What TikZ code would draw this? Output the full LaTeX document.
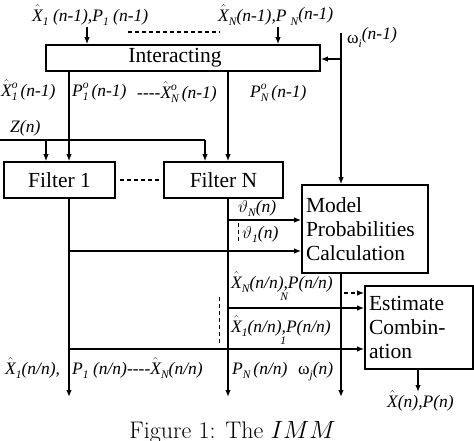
\documentclass[tikz,border=0pt]{standalone}
\usepackage{fontspec}
\newfontfamily\tms{Liberation Serif}
\usetikzlibrary{arrows.meta}
\newcommand\Xh{\ensuremath{\hat{\mbox{X}}}}
\newcommand\om{{\upshape ω}}
\newcommand\sbs[1]{\raisebox{-4.5pt}{\fontsize{11.5}{11.5}\selectfont #1}}
\newcommand\sps[2]{\makebox[0pt][l]{\raisebox{7.5pt}{\fontsize{11.5}{11.5}\selectfont #1}}\raisebox{-4.5pt}{\fontsize{11.5}{11.5}\selectfont #2}}
\begin{document}
\begin{tikzpicture}[x=1pt,y=-1pt,
  box/.style={draw,line width=1.6pt,inner sep=0pt,font=\tms\fontsize{21.5}{24}\selectfont},
  arr/.style={line width=1.4pt,-{Latex[length=7pt,width=5.5pt]}},
  ln/.style={line width=1.4pt},
  dsh/.style={line width=1.2pt,dash pattern=on 4pt off 3pt},
  lab/.style={anchor=base west,inner sep=0pt,font=\tms\itshape\fontsize{17.5}{19}\selectfont}]
\useasboundingbox (0,0) rectangle (474,440);

% boxes
\node[box,minimum width=274pt,minimum height=26pt] (inter) at (183,58) {\hspace*{-16pt}Interacting};
\node[box,minimum width=111pt,minimum height=36pt] (f1) at (59.5,180) {Filter 1};
\node[box,minimum width=119pt,minimum height=36pt] (fN) at (223.5,180) {Filter N};
\node[box,minimum height=88pt,text width=118pt,inner sep=4pt,align=left] (mpc) at (365,229) {Model\\Probabilities\\Calculation};
\node[box,minimum height=83pt,text width=100pt,inner sep=4pt,align=left] (ec) at (419,327.5) {Estimate\\Combin-\\ation};

% coordinates
\coordinate (t1) at (87,27);
\coordinate (tN) at (278,27);
\coordinate (td1) at (128,32);
\coordinate (td2) at (220,32);
\coordinate (w0) at (341,33);
\coordinate (wbr) at (341,59);
\coordinate (c1) at (69,0);
\coordinate (cN) at (228,0);
\coordinate (z0) at (0,140);
\coordinate (z1) at (46,140);
\coordinate (zN) at (205,140);
\coordinate (fd1) at (120,180);
\coordinate (fd2) at (160,180);
\coordinate (o1) at (69,397);
\coordinate (oN) at (228,397);
\coordinate (ow) at (341,397);
\coordinate (h1) at (228,220);
\coordinate (h2) at (69,251);
\coordinate (h3) at (344,293);
\coordinate (h4) at (228,308);
\coordinate (h5) at (69,349);
\coordinate (v1a) at (238,223);
\coordinate (v1b) at (238,242);
\coordinate (v2a) at (219,297);
\coordinate (v2b) at (219,344);
\coordinate (eo) at (418,392);

% connectors
\draw[arr] (t1) -- (t1 |- inter.north);
\draw[arr] (tN) -- (tN |- inter.north);
\draw[dsh] (td1) -- (td2);
\draw[arr] (w0) -- (w0 |- mpc.north);
\draw[arr] (wbr) -- (wbr -| inter.east);
\draw[arr] (inter.south -| c1) -- (f1.north -| c1);
\draw[arr] (inter.south -| cN) -- (fN.north -| cN);
\draw[ln] (z0) -- (zN);
\draw[arr] (z1) -- (z1 |- f1.north);
\draw[arr] (zN) -- (zN |- fN.north);
\draw[dsh] (fd1) -- (fd2);
\draw[arr] (f1.south -| o1) -- (o1);
\draw[arr] (fN.south -| oN) -- (oN);
\draw[arr] (mpc.south -| ow) -- (ow);
\draw[arr] (h1) -- (h1 -| mpc.west);
\draw[arr] (h2) -- (h2 -| mpc.west);
\draw[arr,dash pattern=on 4pt off 3pt] (h3) -- (h3 -| ec.west);
\draw[arr] (h4) -- (h4 -| ec.west);
\draw[arr] (h5) -- (h5 -| ec.west);
\draw[dsh,line width=1pt] (v1a) -- (v1b);
\draw[dsh,line width=1pt] (v2a) -- (v2b);
\draw[arr] (ec.south -| eo) -- (eo);

% labels
\node[lab] (l1) at (32,21) {\Xh\sbs{1} (n-1),P\sbs{1} (n-1)};
\node[lab] (l2) at (218,21) {\Xh\sbs{N}(n-1),P\hspace{4pt}\sbs{N}\raisebox{2pt}{(n-1)}};
\node[lab] (l3) at (1,96) {\Xh\sps{o}{1}\,(n-1)};
\node[lab] (l4) at (72,96) {P\sps{o}{1}\,(n-1)};
\node[lab] (l5) at (137,98) {-{}-{}-{}-\Xh\sps{o}{N}\,(n-1)};
\node[lab] (l6) at (250,97) {P\sps{o}{N}\,(n-1)};
\node[lab] (lz) at (10,132) {Z(n)};
\node[lab] (lw) at (347,43) {\om\sbs{i}\raisebox{4pt}{(n-1)}};
\node[lab] (lt1) at (238,212) {$\vartheta$\sbs{N}(n)};
\node[lab] (lt2) at (242,238) {$\vartheta$\sbs{1}(n)};
\node[lab] (lxn) at (231,288) {\Xh\sbs{N}(n/n),\makebox[0pt][r]{\raisebox{-12pt}{\fontsize{11.5}{11.5}\selectfont N}}P(n/n)};
\node[lab] (lx1) at (231,332) {\Xh\sbs{1}(n/n),\makebox[0pt][r]{\raisebox{-12pt}{\fontsize{11.5}{11.5}\selectfont 1}}P(n/n)};
\node[lab] (b1) at (5,374) {\Xh\sbs{1}(n/n),};
\node[lab] (b2) at (72,374) {P\sbs{1} (n/n)-{}-{}-{}-\Xh\sbs{N}(n/n)};
\node[lab] (b3) at (232,374) {P\sbs{N}\,(n/n)};
\node[lab] (b4) at (298,374) {\om\sbs{j}(n)};
\node[lab] (bo) at (387,407) {\Xh(n),P(n)};

% caption
\node[anchor=base,inner sep=0pt,font=\fontsize{24}{28}\selectfont] (cap) at (232.5,438) {Figure 1: The $IMM$};
\end{tikzpicture}
\end{document}
